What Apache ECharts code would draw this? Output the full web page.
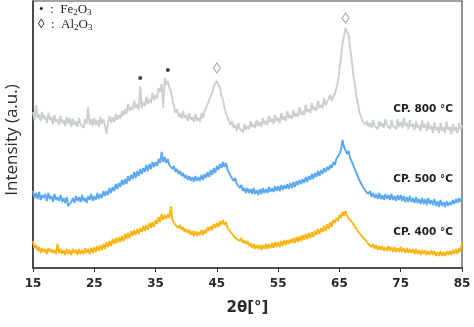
<!DOCTYPE html>
<html>
<head>
<meta charset="utf-8">
<script src="https://cdn.jsdelivr.net/npm/echarts@6/dist/echarts.min.js"></script>
<style>
  html, body { margin: 0; padding: 0; background: #fff; }
  #chart { width: 474px; height: 327px; }
</style>
</head>
<body>
<div id="chart"></div>
<script>
// XRD patterns, 2θ from 15° to 85° sampled every 0.25°, curves offset vertically
const thetaStart = 15;
const thetaStep = 0.25;
const xTicks = [15, 25, 35, 45, 55, 65, 75, 85];

const cp800 = [
  156,148,163,150,154,147,156,149,152,145,155,148,151,144,153,146,149,143,152,145,
  148,142,151,144,150,141,149,143,147,141,150,144,146,140,149,144,161,143,149,142,
  150,143,148,141,151,144,149,142,134,146,152,145,151,146,154,148,153,149,157,152,
  159,154,164,157,161,158,167,160,164,158,182,160,166,162,171,164,169,165,175,168,
  173,170,180,176,184,160,190,183,187,180,177,168,162,155,159,151,155,149,157,150,
  153,147,155,148,151,146,154,147,150,146,155,150,157,156,164,166,172,175,182,184,
  187,183,180,172,168,160,158,150,149,143,147,140,143,137,145,139,141,136,144,138,
  142,139,147,141,144,140,148,142,146,141,150,144,147,143,152,146,149,144,153,147,
  150,145,155,148,152,147,157,150,153,149,158,151,155,151,161,153,157,153,163,156,
  159,155,165,158,161,157,167,160,163,160,170,163,166,164,173,167,171,174,180,186,
  198,210,224,232,240,236,233,220,208,194,184,172,165,156,154,147,149,143,147,141,
  145,140,148,142,144,139,147,141,145,140,149,143,145,139,148,142,144,139,149,141,
  146,140,150,142,145,139,148,141,144,138,147,140,143,137,148,140,144,137,146,139,
  142,135,146,138,141,135,145,137,141,135,146,138,141,134,144,137,141,135,145,138,
  143];

const cp500 = [
  77,70,75,69,76,68,73,70,74,67,75,69,72,66,74,68,71,67,73,66,
  70,65,71,62,60,66,70,65,72,67,71,66,73,67,70,65,72,68,74,67,
  72,68,75,69,74,70,77,72,77,73,80,75,81,77,84,79,85,81,88,83,
  89,84,92,87,93,89,96,90,97,92,99,94,100,96,103,97,104,99,106,101,
  106,102,109,105,116,106,111,105,109,103,105,99,102,96,99,94,97,92,95,90,
  93,88,92,87,91,86,92,87,91,87,93,88,94,90,96,91,98,93,100,95,
  102,98,104,100,106,101,105,98,98,92,93,87,90,84,85,80,83,77,80,75,
  80,75,79,74,80,74,78,73,79,74,80,75,79,75,81,76,80,76,82,77,
  82,77,83,78,83,79,84,79,85,80,86,81,87,83,88,84,89,85,91,86,
  92,88,94,89,95,91,97,92,98,94,100,96,101,98,103,100,106,103,109,107,
  114,118,128,121,122,114,117,110,109,103,101,95,94,88,87,82,82,77,79,74,
  77,71,75,70,74,69,75,69,73,68,74,69,73,68,74,68,72,67,73,68,
  73,67,72,66,71,66,72,66,70,65,71,65,69,64,70,64,69,63,70,64,
  68,63,69,62,67,61,68,62,66,61,67,62,66,63,68,64,69,65,70,66,
  71];

const cp400 = [
  27,20,23,17,21,15,20,16,19,14,20,16,19,15,18,14,24,15,19,14,
  18,13,19,14,18,13,19,15,18,13,19,14,18,14,20,15,19,14,20,15,
  21,16,22,17,23,18,24,19,26,21,27,22,29,24,30,25,31,26,32,27,
  34,29,35,30,37,32,38,33,39,34,40,36,42,37,43,38,45,40,46,41,
  48,44,51,46,54,48,53,49,54,50,62,48,47,43,45,40,43,38,41,36,
  39,35,38,33,37,32,37,32,36,33,38,33,38,35,41,37,42,38,44,40,
  45,41,47,43,48,43,46,40,41,36,37,32,34,29,31,27,30,25,28,24,
  27,22,25,20,24,19,23,19,23,18,23,19,24,19,24,20,25,20,26,21,
  26,21,27,22,28,23,28,24,29,25,30,25,31,26,32,27,33,28,34,29,
  35,30,36,31,37,33,39,34,40,36,42,37,44,39,46,41,48,45,50,47,
  53,50,56,52,57,52,54,48,50,44,45,39,41,35,36,31,33,28,29,24,
  26,21,24,19,23,18,22,18,22,17,21,17,22,17,21,16,21,16,20,16,
  21,16,20,15,20,15,19,15,19,14,19,14,18,13,18,14,18,13,17,13,
  18,13,17,12,16,12,17,12,16,12,17,13,17,13,18,14,19,14,20,16,
  26];

// phase markers placed above the 800 °C pattern
const fe2o3Peaks = [[32.5, 190], [37, 198]];
const al2o3Peaks = [[45, 200], [66, 250]];

const curveLabels = ['CP. 800 °C', 'CP. 500 °C', 'CP. 400 °C'];
const curveLabelY = [110, 180, 233];

function pairs(values) {
  return values.map((v, i) => [thetaStart + i * thetaStep, v]);
}

const chart = echarts.init(document.getElementById('chart'), null, { renderer: 'canvas' });

const lineSeries = (name, values, color) => ({
  name: name,
  type: 'line',
  data: pairs(values),
  showSymbol: false,
  symbol: 'none',
  lineStyle: { color: color, width: 1.9 },
  z: 2
});

chart.setOption({
  animation: false,
  backgroundColor: '#ffffff',
  grid: {
    left: 33, right: 12, top: 1, bottom: 59,
    outerBoundsMode: 'none',
    show: true, borderColor: '#4a4a4a', borderWidth: 1.2
  },
  xAxis: {
    type: 'value',
    min: 15, max: 85,
    name: '2θ[°]',
    nameLocation: 'middle',
    nameGap: 33,
    nameTextStyle: { fontFamily: 'DejaVu Sans', fontWeight: 'bold', fontSize: 15, color: '#2a2a2a' },
    axisLine: { show: true, lineStyle: { color: '#333', width: 1.5 } },
    axisTick: { show: true, customValues: xTicks, length: 4, lineStyle: { color: '#333' } },
    axisLabel: {
      customValues: xTicks,
      fontFamily: 'DejaVu Sans', fontWeight: 'bold', fontSize: 12, color: '#2a2a2a', margin: 10
    },
    splitLine: { show: false }
  },
  yAxis: {
    type: 'value',
    min: 0, max: 267,
    axisLine: { show: true, lineStyle: { color: '#333', width: 1.5 } },
    axisTick: { show: false },
    axisLabel: { show: false },
    splitLine: { show: false }
  },
  series: [
    lineSeries('CP. 800 °C', cp800, '#cbcfce'),
    lineSeries('CP. 500 °C', cp500, '#5aa8f2'),
    lineSeries('CP. 400 °C', cp400, '#f9b515'),
    {
      name: 'Fe2O3', type: 'scatter', data: fe2o3Peaks,
      symbol: 'circle', symbolSize: 4,
      itemStyle: { color: '#111' }, z: 5
    },
    {
      name: 'Al2O3', type: 'scatter', data: al2o3Peaks,
      symbol: 'diamond', symbolSize: [7, 10],
      itemStyle: { color: '#fff', borderColor: '#8a8a8a', borderWidth: 1 }, z: 5
    }
  ],
  graphic: [
    {
      type: 'text', x: 12.5, y: 140, rotation: Math.PI / 2,
      style: {
        text: 'Intensity (a.u.)',
        font: '17px "Open Sans"', fill: '#2a2a2a',
        align: 'center', verticalAlign: 'middle'
      }
    },
    {
      type: 'text', left: 39, top: 3,
      style: {
        text: '{b|•}  :  Fe{s|2}O{s|3}',
        font: '13px "Liberation Serif"', fill: '#222',
        rich: {
          b: { fontSize: 13, fontFamily: 'Liberation Serif', fill: '#111' },
          s: { fontSize: 9, fontFamily: 'Liberation Serif', padding: [7, 0, 0, 0] }
        }
      }
    },
    {
      type: 'text', left: 38, top: 18,
      style: {
        text: '◊  :  Al{s|2}O{s|3}',
        font: '13px "Liberation Serif"', fill: '#222',
        rich: {
          s: { fontSize: 9, fontFamily: 'Liberation Serif', padding: [7, 0, 0, 0] }
        }
      }
    }
  ].concat(curveLabels.map((t, i) => ({
    type: 'text', right: 21, top: curveLabelY[i] - 6,
    style: { text: t, font: 'bold 10.5px "DejaVu Sans"', fill: '#222' }
  })))
});
</script>
</body>
</html>
